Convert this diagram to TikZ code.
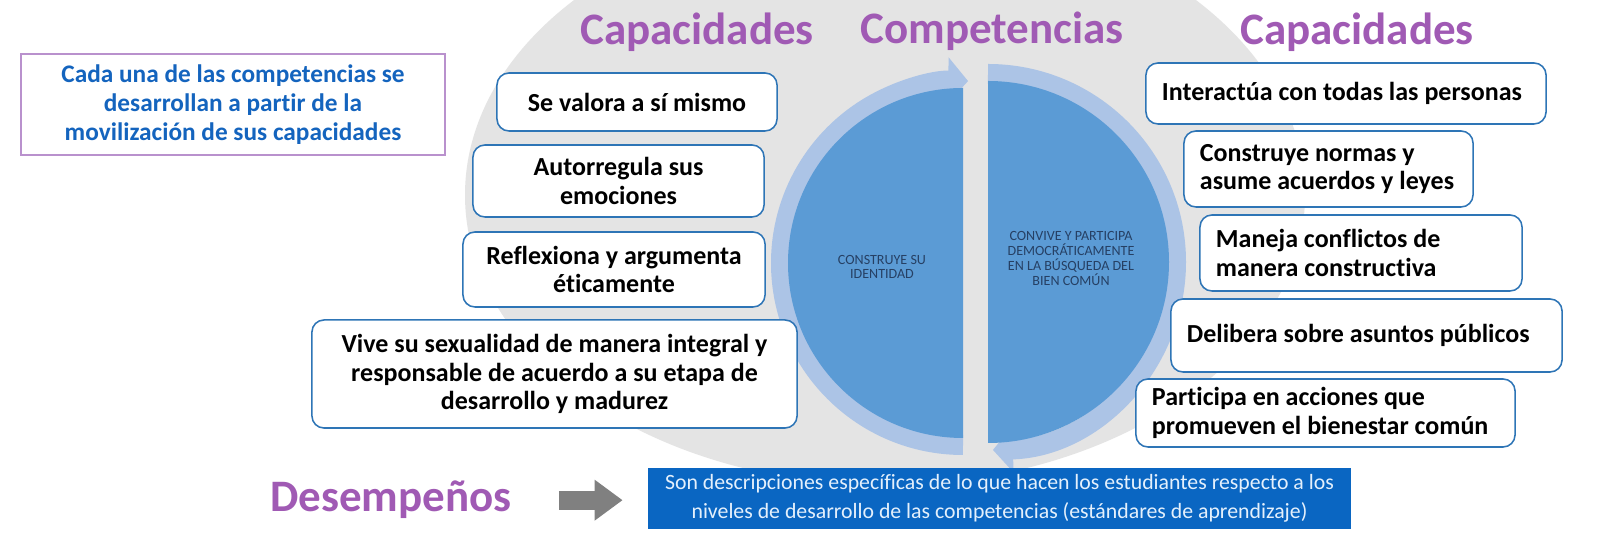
\documentclass[tikz,border=0pt]{standalone}
\usepackage{fontspec}
\setmainfont{Carlito}[Ligatures = NoCommon]
\usetikzlibrary{positioning,calc,arrows.meta}

\definecolor{titlepurple}{RGB}{160,90,180}
\definecolor{boxblue}{RGB}{46,117,182}
\definecolor{notepurple}{RGB}{185,145,205}
\definecolor{noteblue}{RGB}{20,100,190}
\definecolor{diskblue}{RGB}{91,155,213}
\definecolor{ringblue}{RGB}{172,196,230}
\definecolor{disktext}{RGB}{38,64,100}
\definecolor{descblue}{RGB}{10,102,194}
\definecolor{desctext}{RGB}{228,240,252}
\definecolor{arrowgrey}{RGB}{128,128,128}
\definecolor{speckle}{RGB}{228,228,228}

\tikzset{
  headline/.style = {font = \fontsize{32}{36}\selectfont\bfseries, text = titlepurple,
                     anchor = base, inner sep = 0pt},
  capbox/.style = {draw = boxblue, line width = 1.1pt, fill = white, rounded corners = 0.3cm,
                   inner xsep = 0.4cm, inner ysep = 0pt, align = flush center,
                   font = \fontsize{18.5}{20.5}\selectfont\bfseries},
  rightbox/.style = {capbox, align = flush left},
  notebox/.style = {draw = notepurple, line width = 0.8pt, fill = white, inner sep = 0pt,
                    text width = 10.6cm, minimum height = 2.525cm, align = flush center,
                    text = noteblue, font = \fontsize{18}{20.5}\selectfont\bfseries},
  descbox/.style = {fill = descblue, text = desctext, inner sep = 0pt, text width = 17.575cm,
                    minimum height = 1.525cm, align = flush center,
                    font = \fontsize{15.5}{20.5}\selectfont},
  disklabel/.style = {align = flush center, text = disktext, inner sep = 0pt,
                      font = \fontsize{10}{10.5}\selectfont},
  halfdisk/.style = {fill = diskblue},
  ringarrow/.style = {draw = ringblue, line width = 0.5cm,
                      -{Triangle[width = 1.125cm, length = 0.5cm]}},
  greyarrow/.style = {draw = arrowgrey, line width = 0.475cm,
                      -{Triangle[width = 0.975cm, length = 0.7cm]}},
}

\begin{document}
\begin{tikzpicture}[x = 0.025cm, y = 0.025cm]
    \useasboundingbox (0,0) rectangle (1600,536);
    \fill[white] (0,0) rectangle (1600,536);
    \begin{scope}
      \clip (0,0) rectangle (1600,536);
      \fill[speckle] (885,341) ellipse [x radius = 420, y radius = 290];
    \end{scope}

    \coordinate (lc) at (963,273);
    \coordinate (rc) at (988,274);

    \draw[ringarrow] ($(lc) + (270:182)$) arc[start angle = 270, end angle = 88.4, radius = 182];
    \draw[ringarrow] ($(rc) + (90:188)$) arc[start angle = 90, end angle = -88.5, radius = 188];

    \fill[halfdisk] ($(lc) + (0,175)$) arc[start angle = 90, end angle = 270, radius = 175] -- cycle;
    \fill[halfdisk] ($(rc) + (0,181)$) arc[start angle = 90, end angle = -90, radius = 181] -- cycle;

    \node[disklabel] (ident) at ($(lc) + (-81,-4)$) {CONSTRUYE SU\\IDENTIDAD};
    \node[disklabel] (convive) at ($(rc) + (83,3.5)$)
      {CONVIVE Y PARTICIPA\\DEMOCRÁTICAMENTE\\EN LA BÚSQUEDA DEL\\BIEN COMÚN};

    \node[headline] (capizq) at (697,491) {Capacidades};
    \node[headline] (comp) at (992,492) {Competencias};
    \node[headline] (capder) at (1357,491) {Capacidades};
    \node[headline] (desemp) at (391,24) {Desempeños};

    \node[notebox] (nota) at (233,431.5)
      {Cada una de las competencias se\\desarrollan a partir de la\\movilización de sus capacidades};

    \node[capbox, text width = 6.2cm, minimum height = 1.45cm] (valora) at (637,434)
      {Se valora a sí mismo};
    \node[capbox, text width = 6.475cm, minimum height = 1.8cm] (autorregula) at (618.5,355)
      {Autorregula sus\\emociones};
    \node[capbox, text width = 6.75cm, minimum height = 1.875cm] (reflexiona) at (614,266.5)
      {Reflexiona y argumenta\\éticamente};
    \node[capbox, text width = 11.325cm, minimum height = 2.7cm] (vive) at (554.5,162)
      {Vive su sexualidad de manera integral y\\responsable de acuerdo a su etapa de\\desarrollo y madurez};

    \node[rightbox, text width = 9.2cm, minimum height = 1.525cm] (interactua) at (1346,442.5)
      {Interactúa con todas las personas};
    \node[rightbox, text width = 6.425cm, minimum height = 1.9cm] (normas) at (1328.5,367)
      {Construye normas y\\asume acuerdos y leyes};
    \node[rightbox, text width = 7.25cm, minimum height = 1.9cm] (conflictos) at (1361,283)
      {Maneja conflictos de\\manera constructiva};
    \node[rightbox, text width = 8.975cm, minimum height = 1.825cm] (delibera) at (1366.5,200.5)
      {Delibera sobre asuntos públicos};
    \node[rightbox, text width = 8.675cm, minimum height = 1.7cm] (participa) at (1325.5,123)
      {Participa en acciones que\\promueven el bienestar común};

    \node[descbox] (descrip) at (999.5,37.5)
      {Son descripciones específicas de lo que hacen los estudiantes respecto a los\\niveles de desarrollo de las competencias (estándares de aprendizaje)};

    \draw[greyarrow] ($(desemp.east) + (47,0)$) -- ($(descrip.west |- desemp.east) + (-25,0)$);
\end{tikzpicture}
\end{document}
